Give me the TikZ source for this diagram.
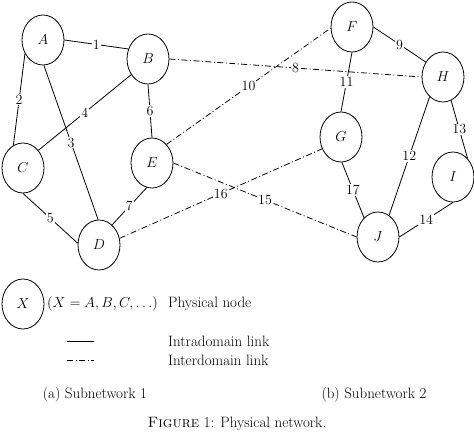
\documentclass[tikz,border=0pt]{standalone}
\usepackage{tikz}
\usetikzlibrary{shapes.geometric}
\begin{document}
\begin{tikzpicture}[x=1pt,y=-1pt,
  vtx/.style={draw, ellipse, minimum width=42pt, minimum height=50pt, inner sep=0pt, line width=0.8pt, font=\fontsize{15}{17}\selectfont},
  intra/.style={line width=0.8pt},
  inter/.style={line width=0.8pt, dash pattern=on 6pt off 2.5pt on 1pt off 2.5pt},
  lbl/.style={fill=white, inner sep=1pt, font=\fontsize{14}{16}\selectfont},
  txt/.style={inner sep=0pt, font=\fontsize{15}{17}\selectfont}]
\useasboundingbox (0,0) rectangle (474,438);
% nodes
\node[vtx] (A) at (43,40) {$A$};
\node[vtx] (B) at (148,59) {$B$};
\node[vtx] (C) at (23,168) {$C$};
\node[vtx] (E) at (152,163) {$E$};
\node[vtx] (D) at (99,245) {$D$};
\node[vtx] (F) at (352,27) {$F$};
\node[vtx] (H) at (443,77) {$H$};
\node[vtx] (G) at (341,137) {$G$};
\node[vtx] (I) at (453,177) {$I$};
\node[vtx] (J) at (378,237) {$J$};
% intradomain links
\draw[intra] (A.0) -- node[lbl] {1} (B.153);
\draw[intra] (A.217) -- node[lbl] {2} (C.113);
\draw[intra] (A.272) -- node[lbl] {3} (D.92);
\draw[intra] (B.223) -- node[lbl] {4} (C.49);
\draw[intra] (C.270) -- node[lbl] {5} (D.175);
\draw[intra] (B.270) -- node[lbl] {6} (E.90);
\draw[intra] (D.57) -- node[lbl] {7} (E.258);
\draw[intra] (F.0) -- node[lbl] {9} (H.139);
\draw[intra] (F.270) -- node[lbl] {11} (G.90);
\draw[intra] (H.236) -- node[lbl] {12} (J.63);
\draw[intra] (H.289) -- node[lbl] {13} (I.52);
\draw[intra] (I.270) -- node[lbl] {14} (J.0);
\draw[intra] (G.272) -- node[lbl] {17} (J.126);
% interdomain links
\draw[inter] (B.0) -- node[lbl] {8} (H.180);
\draw[inter] (E.52) -- node[lbl] {10} (F.183);
\draw[inter] (E.0) -- node[lbl] {15} (J.180);
\draw[inter] (D.18) -- node[lbl] {16} (G.212);
% legend
\node[vtx] (X) at (23,304) {$X$};
\node[txt, anchor=west] (Xdef) at (47,304) {$(X = A, B, C, \ldots)$};
\node[txt, anchor=west] (phys) at (168,304) {Physical node};
\coordinate (s1) at (67,341);
\coordinate (s2) at (94,341);
\coordinate (d1) at (67,360);
\coordinate (d2) at (94,360);
\draw[intra] (s1) -- (s2);
\draw[inter] (d1) -- (d2);
\node[txt, anchor=west] (intraT) at (168,341) {Intradomain link};
\node[txt, anchor=west] (interT) at (168,360) {Interdomain link};
\node[txt] (capa) at (95,395) {(a) Subnetwork 1};
\node[txt] (capb) at (374,395) {(b) Subnetwork 2};
\node[txt] (fig) at (237,424) {\textsc{Figure} 1: Physical network.};
\end{tikzpicture}
\end{document}
